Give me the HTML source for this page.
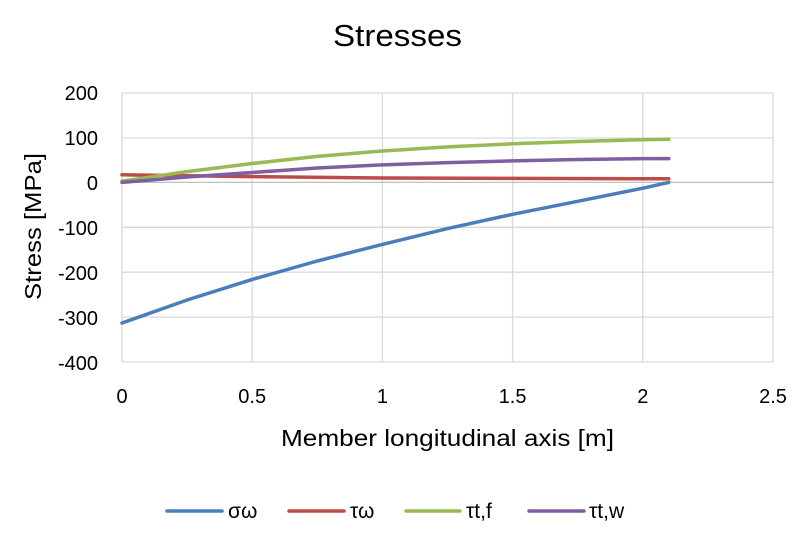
<!DOCTYPE html>
<html><head><meta charset="utf-8"><style>html,body{margin:0;padding:0;background:#fff}</style></head>
<body>
<svg width="800" height="534" xmlns="http://www.w3.org/2000/svg" font-family="Liberation Sans, DejaVu Sans, sans-serif" fill="#000">
<rect width="800" height="534" fill="#fff"/>
<text x="333" y="46" font-size="31" textLength="129" lengthAdjust="spacingAndGlyphs">Stresses</text>
<g stroke="#d9d9d9" stroke-width="1.3">
<line x1="122" y1="93" x2="773" y2="93"/><line x1="122" y1="138" x2="773" y2="138"/>
<line x1="122" y1="227.3" x2="773" y2="227.3"/><line x1="122" y1="272.2" x2="773" y2="272.2"/>
<line x1="122" y1="317.1" x2="773" y2="317.1"/><line x1="122" y1="362" x2="773" y2="362"/>
<line x1="122" y1="93" x2="122" y2="362"/><line x1="252.2" y1="93" x2="252.2" y2="362"/>
<line x1="382.4" y1="93" x2="382.4" y2="362"/><line x1="512.6" y1="93" x2="512.6" y2="362"/>
<line x1="642.8" y1="93" x2="642.8" y2="362"/><line x1="773" y1="93" x2="773" y2="362"/>
</g>
<line x1="122" y1="182.4" x2="773" y2="182.4" stroke="#bfbfbf" stroke-width="1.3"/>
<g font-size="20" text-anchor="end">
<text x="98" y="100">200</text><text x="98" y="145">100</text><text x="98" y="190">0</text>
<text x="98" y="235">-100</text><text x="98" y="280">-200</text><text x="98" y="325">-300</text><text x="98" y="370">-400</text>
</g>
<g font-size="20" text-anchor="middle">
<text x="122" y="403">0</text><text x="252.2" y="403">0.5</text><text x="382.4" y="403">1</text>
<text x="512.6" y="403">1.5</text><text x="642.8" y="403">2</text><text x="773" y="403">2.5</text>
</g>
<text x="281" y="446" font-size="23" textLength="333" lengthAdjust="spacingAndGlyphs">Member longitudinal axis [m]</text>
<text transform="translate(41,300) rotate(-90)" font-size="23" textLength="147" lengthAdjust="spacingAndGlyphs">Stress [MPa]</text>
<g fill="none" stroke-width="3.5" stroke-linecap="round" stroke-linejoin="round">
<polyline stroke="#4a7ebb" points="122,323 187.1,300 252.2,279.4 317.3,261 382.4,244.4 447.5,228.6 512.6,214.3 577.7,201.3 642.8,188.2 668.8,182.4"/>
<polyline stroke="#be4b48" points="122,174.8 252.2,176.6 382.4,178 512.6,178.4 668.8,178.8"/>
<polyline stroke="#98b954" points="122,181.1 187.1,171.6 252.2,163.5 317.3,156.4 382.4,151 447.5,146.9 512.6,143.8 577.7,141.5 642.8,139.7 668.8,139.3"/>
<polyline stroke="#7d60a0" points="122,182.4 187.1,177 252.2,172.5 317.3,168 382.4,164.9 447.5,162.6 512.6,160.9 577.7,159.5 642.8,158.6 668.8,158.6"/>
</g>
<g stroke-width="3.5" stroke-linecap="round">
<line x1="167" y1="511" x2="222" y2="511" stroke="#4a7ebb"/>
<line x1="289" y1="511" x2="344" y2="511" stroke="#be4b48"/>
<line x1="406" y1="511" x2="460" y2="511" stroke="#98b954"/>
<line x1="529" y1="511" x2="584" y2="511" stroke="#7d60a0"/>
</g>
<g font-size="21">
<text x="228" y="518">σω</text><text x="350" y="518">τω</text><text x="466" y="518">τt,f</text><text x="589" y="518">τt,w</text>
</g>
</svg>
</body></html>
